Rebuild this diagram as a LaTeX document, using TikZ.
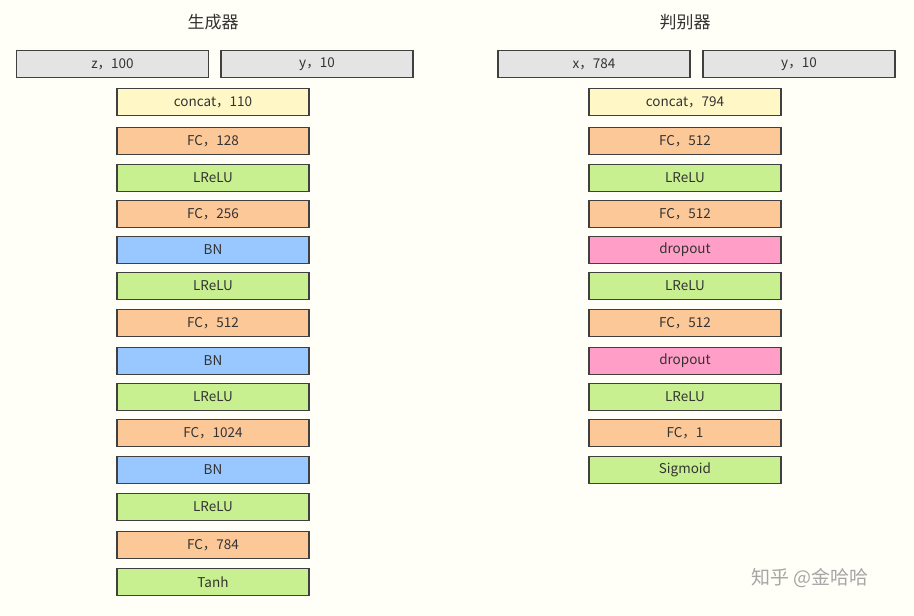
\documentclass[tikz,border=0pt]{standalone}
\usepackage{fontspec}
\setmainfont{Noto Sans CJK SC}
\definecolor{cgray}{HTML}{E4E4E4}
\definecolor{cyel}{HTML}{FFF8C6}
\definecolor{corg}{HTML}{FDC898}
\definecolor{cgrn}{HTML}{C8F090}
\definecolor{cblu}{HTML}{98C8FF}
\definecolor{cpnk}{HTML}{FF9EC6}
\definecolor{ctxt}{HTML}{333333}
\begin{document}
\begin{tikzpicture}[x=1pt,y=-1pt,
  blk/.style={draw=black!75,line width=1.4pt,minimum width=192pt,minimum height=27pt,inner sep=0pt,font=\fontsize{13.5}{14}\selectfont,text=ctxt},
  ttl/.style={font=\fontsize{17}{18}\selectfont,text=ctxt}]
\fill[white!97!yellow] (0,0) rectangle (914,616);
\useasboundingbox (0,0) rectangle (914,616);
\node[ttl] (gt) at (213,22) {生成器};
\node[ttl] (dt) at (685,22) {判别器};
\node[blk,fill=cgray] (gz) at (112.5,64) {z，100};
\node[blk,fill=cgray] (gy) at (317,64) {y，10};
\node[blk,fill=cgray] (dx) at (594,64) {x，784};
\node[blk,fill=cgray] (dy) at (799,64) {y，10};
\foreach \t/\c/\y [count=\i] in {concat，110/cyel/102, FC，128/corg/141, LReLU/cgrn/178, FC，256/corg/214, BN/cblu/250, LReLU/cgrn/286, FC，512/corg/323, BN/cblu/361, LReLU/cgrn/397, FC，1024/corg/433, BN/cblu/470, LReLU/cgrn/507, FC，784/corg/545, Tanh/cgrn/582}
  \node[blk,fill=\c] (g\i) at (213,\y) {\t};
\foreach \t/\c/\y [count=\i] in {concat，794/cyel/102, FC，512/corg/141, LReLU/cgrn/178, FC，512/corg/214, dropout/cpnk/250, LReLU/cgrn/286, FC，512/corg/323, dropout/cpnk/361, LReLU/cgrn/397, FC，1/corg/433, Sigmoid/cgrn/470}
  \node[blk,fill=\c] (d\i) at (685,\y) {\t};
\node[font=\fontsize{19}{20}\selectfont,text=black!35] (wm) at (810,578) {知乎 @金哈哈};
\end{tikzpicture}
\end{document}
